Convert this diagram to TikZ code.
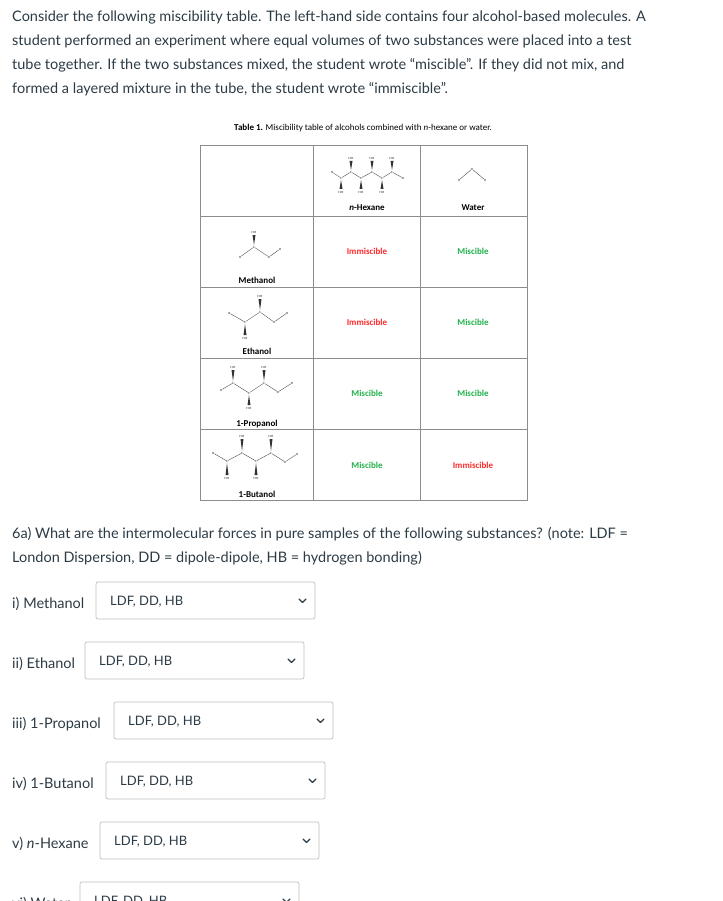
\documentclass[tikz,border=0pt]{standalone}
\usepackage{fontspec}
\setmainfont{Lato}
\newfontfamily\calfont{Carlito}
\definecolor{txt}{HTML}{2D3B45}
\definecolor{mred}{HTML}{FF2A2A}
\definecolor{mgreen}{HTML}{21B24B}
\begin{document}
\begin{tikzpicture}[x=1pt,y=-1pt,
  bodytxt/.style={anchor=base west,inner sep=0,font=\fontsize{14.5}{16}\selectfont,text=txt},
  captxt/.style={anchor=base,inner sep=0,font=\calfont\fontsize{9}{10}\selectfont},
  res/.style={anchor=base,inner sep=0,font=\calfont\bfseries\fontsize{9}{10}\selectfont},
  atom/.style={inner sep=0,font=\calfont\fontsize{3.2}{3.5}\selectfont},
  bond/.style={draw=black!70,line width=0.4pt},
  drop/.style={draw=black!25,rounded corners=2pt,line width=0.7pt},
  dtxt/.style={anchor=base west,inner sep=0,font=\fontsize{13}{14}\selectfont,text=txt}]
\clip (0,0) rectangle (722,901);
\fill[white] (0,0) rectangle (722,901);
\node[bodytxt] (l1) at (12,22) {Consider the following miscibility table. The left-hand side contains four alcohol-based molecules. A};
\node[bodytxt] (l2) at (12,46) {student performed an experiment where equal volumes of two substances were placed into a test};
\node[bodytxt] (l3) at (12,70) {tube together. If the two substances mixed, the student wrote “miscible”. If they did not mix, and};
\node[bodytxt] (l4) at (12,94) {formed a layered mixture in the tube, the student wrote “immiscible”.};
\node[captxt] (cp) at (363,131) {\textbf{Table 1.} Miscibility table of alcohols combined with \textit{n}-hexane or water.};
% table grid
\draw[black!45,line width=0.8pt] (200,145) rectangle (527,500);
\foreach \x in {313,420} \draw[black!45,line width=0.8pt] (\x,145) -- (\x,500);
\foreach \y in {216,287,358,429} \draw[black!45,line width=0.8pt] (200,\y) -- (527,\y);
% headers
\node[res] (hx) at (367,211) {\textit{n}-Hexane};
\node[res] (hw) at (473,211) {Water};
\node[res] (nm) at (257,283) {Methanol};
\node[res] (ne) at (257,354) {Ethanol};
\node[res] (np) at (257,426) {1-Propanol};
\node[res] (nb) at (257,497) {1-Butanol};
% results
\node[res,text=mred] (r1) at (367,254) {Immiscible};
\node[res,text=mgreen] (r2) at (473,254) {Miscible};
\node[res,text=mred] (r3) at (367,325) {Immiscible};
\node[res,text=mgreen] (r4) at (473,325) {Miscible};
\node[res,text=mgreen] (r5) at (367,396) {Miscible};
\node[res,text=mgreen] (r6) at (473,396) {Miscible};
\node[res,text=mgreen] (r7) at (367,468) {Miscible};
\node[res,text=mred] (r8) at (473,468) {Immiscible};
% hexane
\foreach \n/\x/\y in {a/341/178,b/351/172,c/361/178,d/372/172,e/382/178,f/392/172}
  \node[atom] (hx\n) at (\x,\y) {C};
\node[atom] (hxh1) at (332,172) {H};
\node[atom] (hxh2) at (403,178) {H};
\draw[bond] (hxh1)--(hxa)--(hxb)--(hxc)--(hxd)--(hxe)--(hxf)--(hxh2);
\foreach \n in {b,d,f} {\node[atom] (hu\n) at ([yshift=14]hx\n.center) {H\,H};
  \fill[black!80] ([xshift=-1.5,yshift=11]hx\n.center) -- ([xshift=1.5,yshift=11]hx\n.center) -- ([yshift=2]hx\n.center) -- cycle;}
\foreach \n in {a,c,e} {\node[atom] (hd\n) at ([yshift=-14]hx\n.center) {H\,H};
  \fill[black!80] ([xshift=-1.5,yshift=-11]hx\n.center) -- ([xshift=1.5,yshift=-11]hx\n.center) -- ([yshift=-2]hx\n.center) -- cycle;}
% water
\node[atom] (wo) at (472,169) {O};
\node[atom] (wh1) at (459,180) {H};
\node[atom] (wh2) at (485,180) {H};
\draw[bond] (wh1)--(wo)--(wh2);
% methanol
\node[atom] (mc) at (254,247) {C};
\node[atom] (mh) at (240,257) {H};
\node[atom] (mo) at (269,257) {O};
\node[atom] (mh2) at (280,249) {H};
\node[atom] (mhh) at (254,232) {H\,H};
\draw[bond] (mh)--(mc)--(mo)--(mh2);
\fill[black!80] (252.5,235) -- (255.5,235) -- (254,245) -- cycle;
% ethanol
\node[atom] (ec1) at (245,322) {C};
\node[atom] (ec2) at (260,312) {C};
\node[atom] (eo) at (274,322) {O};
\node[atom] (eh) at (287,313) {H};
\node[atom] (eh0) at (229,313) {H};
\node[atom] (ehu) at (260,296) {H\,H};
\node[atom] (ehd) at (245,338) {H\,H};
\draw[bond] (eh0)--(ec1)--(ec2)--(eo)--(eh);
\fill[black!80] (258.5,299) -- (261.5,299) -- (260,310) -- cycle;
\fill[black!80] (243.5,335) -- (246.5,335) -- (245,324) -- cycle;
% propanol
\node[atom] (pc1) at (233,383) {C};
\node[atom] (pc2) at (249,393) {C};
\node[atom] (pc3) at (264,383) {C};
\node[atom] (po) at (278,392) {O};
\node[atom] (ph) at (292,383) {H};
\node[atom] (ph0) at (221,390) {H};
\node[atom] (pu1) at (233,367) {H\,H};
\node[atom] (pu2) at (264,367) {H\,H};
\node[atom] (pd) at (249,408) {H\,H};
\draw[bond] (ph0)--(pc1)--(pc2)--(pc3)--(po)--(ph);
\fill[black!80] (231.5,370) -- (234.5,370) -- (233,381) -- cycle;
\fill[black!80] (262.5,370) -- (265.5,370) -- (264,381) -- cycle;
\fill[black!80] (247.5,405) -- (250.5,405) -- (249,395) -- cycle;
% butanol
\node[atom] (bc1) at (227,461) {C};
\node[atom] (bc2) at (242,453) {C};
\node[atom] (bc3) at (256,461) {C};
\node[atom] (bc4) at (271,453) {C};
\node[atom] (bo) at (285,462) {O};
\node[atom] (bh) at (297,454) {H};
\node[atom] (bh0) at (213,453) {H};
\node[atom] (bu1) at (242,436) {H\,H};
\node[atom] (bu2) at (271,436) {H\,H};
\node[atom] (bd1) at (227,478) {H\,H};
\node[atom] (bd2) at (256,478) {H\,H};
\draw[bond] (bh0)--(bc1)--(bc2)--(bc3)--(bc4)--(bo)--(bh);
\fill[black!80] (240.5,439) -- (243.5,439) -- (242,451) -- cycle;
\fill[black!80] (269.5,439) -- (272.5,439) -- (271,451) -- cycle;
\fill[black!80] (225.5,475) -- (228.5,475) -- (227,463) -- cycle;
\fill[black!80] (254.5,475) -- (257.5,475) -- (256,463) -- cycle;
% question
\node[bodytxt] (q1) at (12,538) {6a) What are the intermolecular forces in pure samples of the following substances? (note: LDF =};
\node[bodytxt] (q2) at (12,562) {London Dispersion, DD = dipole-dipole, HB = hydrogen bonding)};
% dropdowns
\foreach \i/\lab/\xa/\y in {1/i) Methanol/96/582, 2/ii) Ethanol/85/642, 3/iii) 1-Propanol/114/702, 4/iv) 1-Butanol/106/762, 5/v) \textit{n}-Hexane/100/822, 6/vi) Water/80/882} {
  \node[bodytxt] (lab\i) at (12,\y+26) {\lab};
  \draw[drop] (\xa,\y) rectangle (\xa+219,\y+37);
  \node[dtxt] (dt\i) at (\xa+14,\y+23) {LDF, DD, HB};
  \draw[txt,line width=1.3pt,line cap=round,line join=round] (\xa+203,\y+17) -- (\xa+206.5,\y+20.5) -- (\xa+210,\y+17);
}
\end{tikzpicture}
\end{document}
